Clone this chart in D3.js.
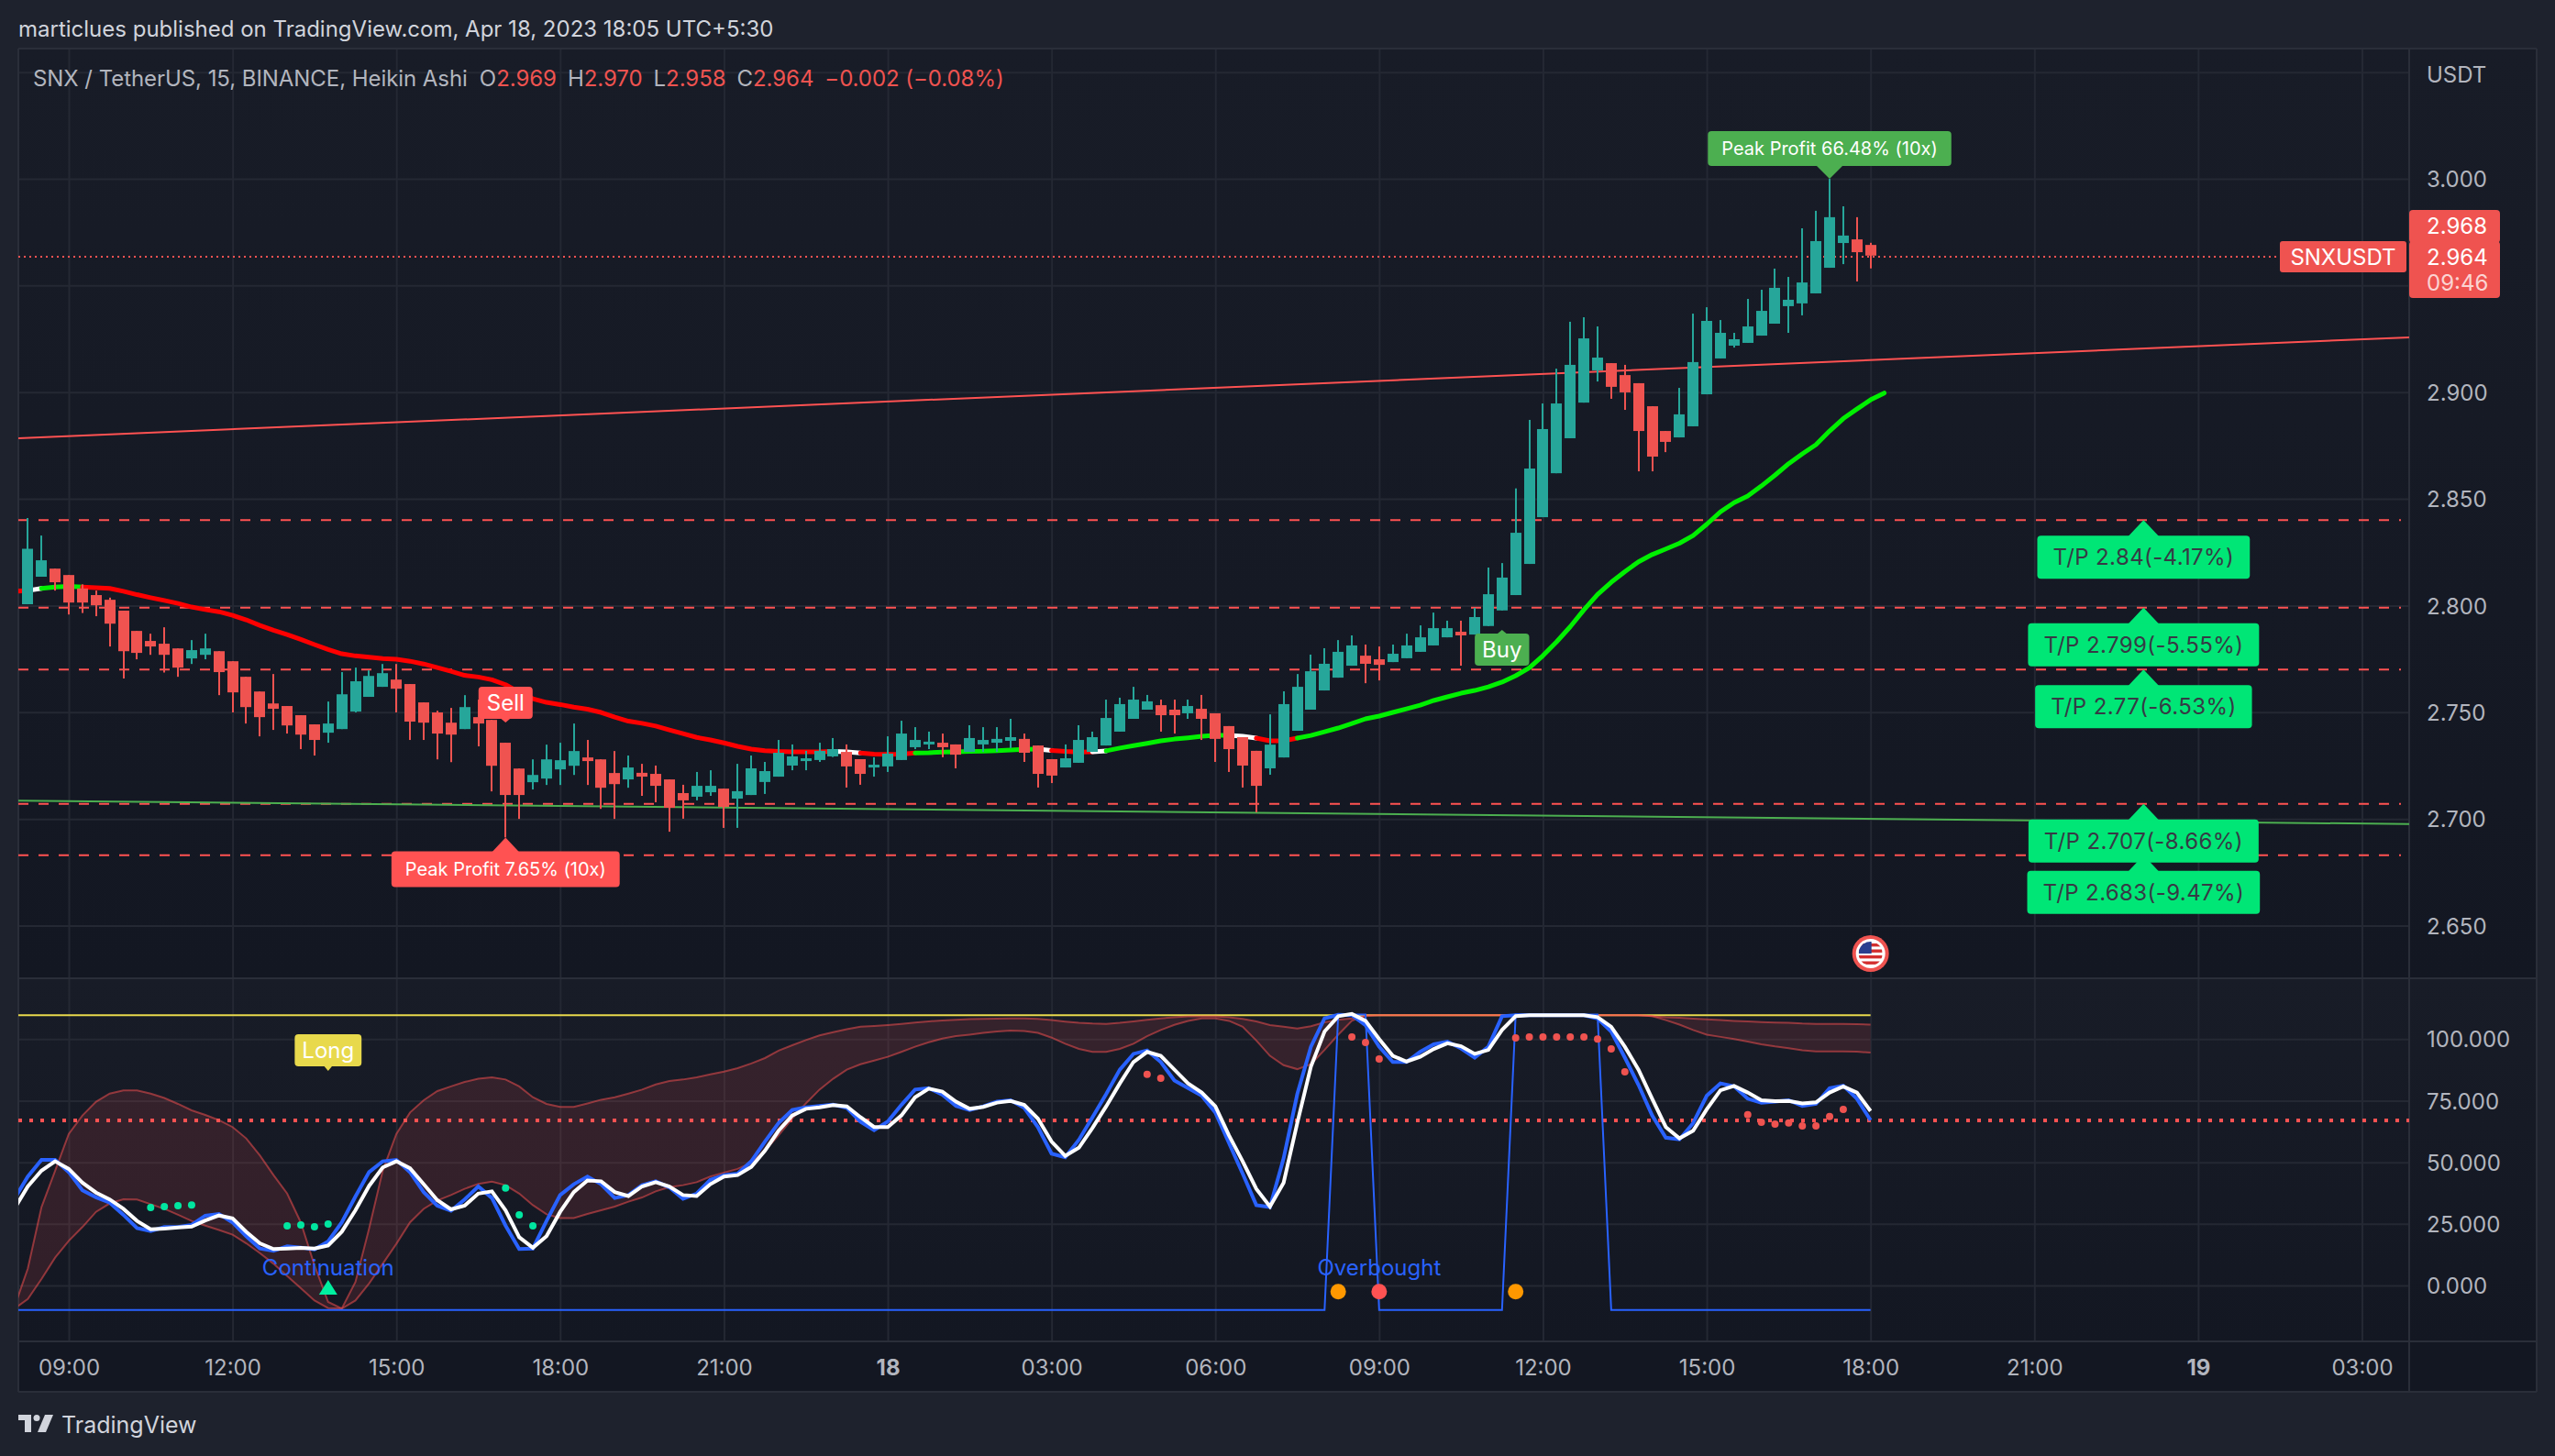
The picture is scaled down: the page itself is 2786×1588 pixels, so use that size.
<!DOCTYPE html>
<html>
<head>
<meta charset="utf-8">
<title>SNXUSDT</title>
<script src="https://cdn.jsdelivr.net/npm/d3@7/dist/d3.min.js"></script>
<style>
	html, body { margin: 0; padding: 0; background: #1e222d; }
	svg { display: block; }
	text { font-family: Inter, "Noto Sans", sans-serif; }
</style>
</head>
<body>
<div id="chart"></div>
<script>
// candles, one per 15 min bar, first one is bar -3 (bar 0 = 09:00 on the 17th)
var firstBar = -3;
var opens = [2.8006,2.8135,2.8173,2.8143,2.8080,2.8049,2.8027,2.7976,2.7881,2.7834,2.7821,2.7799,2.7752,2.7769,2.7786,2.7739,2.7666,2.7597,2.7541,2.7529,2.7486,2.7443,2.7404,2.7421,2.7503,2.7572,2.7619,2.7653,2.7632,2.7546,2.7499,2.7451,2.7421,2.7477,2.7464,2.7357,2.7236,2.7172,2.7189,2.7232,2.7249,2.7288,2.7279,2.7215,2.7185,2.7216,2.7211,2.7185,2.7121,2.7104,2.7125,2.7142,2.7095,2.7112,2.7173,2.7198,2.7250,2.7271,2.7276,2.7293,2.7314,2.7280,2.7241,2.7246,2.7276,2.7336,2.7349,2.7357,2.7349,2.7314,2.7349,2.7357,2.7366,2.7375,2.7344,2.7280,2.7241,2.7263,2.7314,2.7344,2.7409,2.7469,2.7512,2.7533,2.7512,2.7495,2.7516,2.7495,2.7435,2.7383,2.7319,2.7237,2.7288,2.7413,2.7512,2.7602,2.7662,2.7718,2.7765,2.7748,2.7735,2.7753,2.7783,2.7813,2.7851,2.7877,2.7864,2.7904,2.7977,2.8049,2.8195,2.8414,2.8620,2.8784,2.8951,2.9102,2.9136,2.9080,2.9042,2.8934,2.8818,2.8788,2.8840,2.8990,2.9158,2.9218,2.9231,2.9265,2.9321,2.9403,2.9416,2.9463,2.9583,2.9699,2.9716,2.969];
var highs = [2.8410,2.8328,2.8173,2.8143,2.8099,2.8070,2.8037,2.7976,2.7881,2.7868,2.7898,2.7799,2.7838,2.7868,2.7786,2.7739,2.7666,2.7597,2.7679,2.7529,2.7486,2.7443,2.7550,2.7688,2.7709,2.7696,2.7726,2.7726,2.7632,2.7546,2.7507,2.7520,2.7580,2.7559,2.7464,2.7357,2.7236,2.7279,2.7348,2.7357,2.7447,2.7370,2.7279,2.7318,2.7297,2.7258,2.7250,2.7185,2.7160,2.7220,2.7228,2.7142,2.7258,2.7297,2.7267,2.7370,2.7349,2.7319,2.7357,2.7379,2.7349,2.7280,2.7289,2.7387,2.7460,2.7430,2.7409,2.7400,2.7349,2.7439,2.7430,2.7430,2.7469,2.7400,2.7344,2.7280,2.7349,2.7439,2.7409,2.7559,2.7568,2.7619,2.7581,2.7559,2.7559,2.7559,2.7581,2.7495,2.7435,2.7383,2.7319,2.7490,2.7598,2.7679,2.7770,2.7800,2.7838,2.7860,2.7817,2.7808,2.7817,2.7868,2.7907,2.7967,2.7929,2.7929,2.7989,2.8178,2.8199,2.8549,2.8870,2.8947,2.9110,2.9330,2.9351,2.9308,2.9136,2.9128,2.9042,2.8934,2.8818,2.9020,2.9368,2.9398,2.9338,2.9278,2.9437,2.9480,2.9579,2.9540,2.9768,2.9850,3.0000,2.9871,2.9820,2.970];
var lows = [2.8006,2.8135,2.8070,2.7958,2.7965,2.7950,2.7808,2.7658,2.7748,2.7769,2.7686,2.7666,2.7726,2.7748,2.7580,2.7499,2.7447,2.7387,2.7417,2.7400,2.7327,2.7297,2.7357,2.7421,2.7499,2.7572,2.7619,2.7499,2.7370,2.7370,2.7279,2.7266,2.7421,2.7340,2.7129,2.6913,2.7000,2.7138,2.7159,2.7159,2.7206,2.7159,2.7047,2.7000,2.7146,2.7108,2.7078,2.6940,2.7001,2.7087,2.7108,2.6958,2.6958,2.7112,2.7117,2.7198,2.7228,2.7228,2.7267,2.7290,2.7147,2.7160,2.7198,2.7220,2.7276,2.7327,2.7327,2.7289,2.7237,2.7314,2.7314,2.7314,2.7332,2.7267,2.7147,2.7168,2.7241,2.7263,2.7314,2.7344,2.7409,2.7469,2.7512,2.7409,2.7400,2.7469,2.7370,2.7267,2.7220,2.7147,2.7031,2.7207,2.7288,2.7413,2.7512,2.7602,2.7662,2.7718,2.7636,2.7649,2.7735,2.7753,2.7783,2.7813,2.7851,2.7718,2.7864,2.7904,2.7977,2.8049,2.8195,2.8414,2.8620,2.8784,2.8951,2.9050,2.8969,2.8917,2.8629,2.8629,2.8719,2.8788,2.8840,2.8990,2.9158,2.9209,2.9231,2.9265,2.9321,2.9278,2.9360,2.9463,2.9583,2.9600,2.9519,2.958];
var closes = [2.8266,2.8212,2.8109,2.8014,2.8014,2.8001,2.7915,2.7786,2.7778,2.7808,2.7769,2.7709,2.7791,2.7799,2.7688,2.7593,2.7524,2.7477,2.7516,2.7438,2.7395,2.7370,2.7447,2.7584,2.7645,2.7670,2.7683,2.7610,2.7456,2.7451,2.7400,2.7395,2.7524,2.7447,2.7249,2.7112,2.7112,2.7206,2.7279,2.7275,2.7318,2.7271,2.7146,2.7163,2.7241,2.7198,2.7155,2.7052,2.7087,2.7155,2.7155,2.7056,2.7130,2.7237,2.7224,2.7310,2.7293,2.7284,2.7319,2.7327,2.7246,2.7211,2.7254,2.7306,2.7400,2.7370,2.7362,2.7336,2.7301,2.7379,2.7370,2.7375,2.7383,2.7310,2.7211,2.7203,2.7284,2.7370,2.7383,2.7473,2.7538,2.7559,2.7551,2.7486,2.7486,2.7529,2.7469,2.7375,2.7327,2.7250,2.7155,2.7348,2.7538,2.7619,2.7692,2.7727,2.7783,2.7813,2.7727,2.7722,2.7774,2.7813,2.7851,2.7894,2.7894,2.7860,2.7946,2.8053,2.8131,2.8341,2.8642,2.8827,2.8947,2.9128,2.9252,2.9162,2.9025,2.8999,2.8818,2.8698,2.8767,2.8896,2.9141,2.9334,2.9278,2.9248,2.9308,2.9381,2.9489,2.9433,2.9514,2.9708,2.9820,2.9734,2.9656,2.964];

// moving average, first value is bar -4
var maFirstBar = -4;
var maValues = [2.8067,2.8070,2.8080,2.8087,2.8090,2.8087,2.8084,2.8080,2.8067,2.8051,2.8037,2.8024,2.8010,2.7993,2.7981,2.7971,2.7954,2.7933,2.7907,2.7884,2.7864,2.7841,2.7817,2.7794,2.7774,2.7764,2.7758,2.7752,2.7748,2.7739,2.7726,2.7709,2.7692,2.7673,2.7665,2.7652,2.7629,2.7593,2.7563,2.7546,2.7536,2.7524,2.7514,2.7499,2.7477,2.7458,2.7448,2.7435,2.7417,2.7400,2.7382,2.7370,2.7356,2.7340,2.7327,2.7320,2.7316,2.7314,2.7314,2.7314,2.7316,2.7314,2.7309,2.7304,2.7303,2.7304,2.7309,2.7310,2.7313,2.7314,2.7316,2.7317,2.7320,2.7323,2.7326,2.7327,2.7321,2.7316,2.7313,2.7314,2.7319,2.7332,2.7343,2.7354,2.7366,2.7374,2.7380,2.7387,2.7392,2.7392,2.7387,2.7379,2.7366,2.7366,2.7379,2.7391,2.7408,2.7426,2.7447,2.7469,2.7482,2.7499,2.7516,2.7533,2.7555,2.7572,2.7589,2.7602,2.7619,2.7641,2.7671,2.7708,2.7765,2.7830,2.7901,2.7980,2.8052,2.8109,2.8159,2.8205,2.8239,2.8265,2.8292,2.8328,2.8381,2.8439,2.8482,2.8513,2.8560,2.8611,2.8665,2.8711,2.8754,2.8818,2.8876,2.8921,2.8964,2.8996];
var maColorStarts = [-4,-3,-2,1,56,58,62,71,72,75,76,85,87,90];
var maColorNames = ["red","white","green","red","white","red","green","white","red","white","green","white","red","green"];

// horizontal levels and trend lines
var targetPrices = [2.84,2.799,2.77,2.707,2.683];
var targetTexts = ["T/P 2.84(-4.17%)","T/P 2.799(-5.55%)","T/P 2.77(-6.53%)","T/P 2.707(-8.66%)","T/P 2.683(-9.47%)"];
var targetBar = 152;
var lastPrice = 2.9635;
var redTrendBars = [-3.7,171.5], redTrendPrices = [2.8784,2.9257];
var greenTrendBars = [-3.7,171.5], greenTrendPrices = [2.7086,2.6976];

// axes
var priceTicks = [3,2.9,2.85,2.8,2.75,2.7,2.65];
var priceGrid = [3.05,3,2.95,2.9,2.85,2.8,2.75,2.7,2.65];
var paneTicks = [100,75,50,25,0];
var timeTickBars = [0,12,24,36,48,60,72,84,96,108,120,132,144,156,168];
var timeTickLabels = ["09:00","12:00","15:00","18:00","21:00","18","03:00","06:00","09:00","12:00","15:00","18:00","21:00","19","03:00"];

// lower pane, first value is bar -4
var oscFirstBar = -4;
var oscFast = [35,44.2,51,51,46,38.6,35.8,33.6,28.7,23.3,22.1,23.7,23.7,24.6,28.3,29,25.6,20,15,14.1,15.9,15.4,14.6,17.9,25.6,36.1,46,50.4,51,46,37.9,32.4,30.3,34.9,40.2,35.5,24.3,14.8,15,26.2,36.7,41.1,44.2,41.1,35.5,36.7,40.7,42.3,39.8,35.2,37.3,42.9,44.8,45.4,50.4,58.4,65.9,71.2,72.3,72.9,73.4,72.1,66.5,63,66.5,73.3,79.5,80.1,77.4,72.9,71.2,72.7,74.6,75.2,72.1,64.3,53.5,52,59.1,68.3,77.7,87.6,94,95.4,90.7,83.2,80.1,77,70.2,57.8,45.4,32.6,31.8,51.6,77.7,96.9,108.4,109.9,109.7,105.6,96.9,90.7,90.7,94.8,97.9,99,96.2,92.5,96.9,109.3,109.7,109.7,109.7,109.7,109.7,109.7,108.4,103.1,92.5,81.4,69,60,59.3,65.9,77,82,80.8,75.8,74.2,74.6,75.2,72.9,73.7,80.1,81.1,75.8,67.1];
var oscSlow = [31,40.2,46.6,50.4,47.3,41.7,37.7,34.9,31.1,26.2,22.8,23.1,23.5,23.9,26.4,28.4,27.2,21.8,17.1,14.8,15,15.3,15,16.2,21.8,30.5,40.4,47.9,50.4,47.6,41.1,34.6,30.9,32.4,37.3,38.2,30.5,19.6,15.3,20,29.9,37.9,42.6,42.3,37.9,36.3,40.2,41.9,40.2,36.7,36.3,41.1,44.2,44.8,48.1,54.7,62.8,69,71.7,72.3,73.2,72.7,68.3,64.3,64.3,69,76.4,79.9,78.7,74.6,71.7,72.5,74.2,74.9,73.3,67.7,58.4,52.6,55.9,64,72.7,82,90.7,94.8,93.2,87.6,82,78.3,72.7,60.9,50.4,39.2,32,41.7,65.9,88.8,103.1,109.3,110.2,107.4,100,93.2,90.9,92.8,96,98.3,97.1,94,95.6,103.7,109.3,109.7,109.7,109.7,109.7,109.7,108.9,105,96.9,87.6,75.8,64.3,59.7,62.8,71.5,79.2,81,78.3,75.2,74.8,74.9,73.9,74.3,78.3,80.8,78.3,70.8];
var bandUpper = [
	-9,6.9,31.8,46.6,61.5,69,74.6,77.9,79.2,79.2,
	77.9,76.1,73.7,71.1,69.2,67.1,64.3,59.7,52.8,44.8,
	37.3,25.6,8.2,-6.7,-9.4,1.4,23.1,46.6,61.5,70.2,
	75.2,78.9,80.8,82.6,83.9,84.5,83.6,80.8,76.4,73.7,
	72.5,72.5,73.9,75.4,76.4,77.9,79.5,81.6,83,83.6,
	84.5,85.7,86.8,88.2,90.1,92.3,95.3,97.5,99.6,101.5,
	102.8,104,105,105.3,105.7,106.2,106.7,107.2,107.6,107.8,
	108.1,108.2,108.3,108.4,108.4,108.2,107.7,107.1,106.6,106.3,
	106.2,106.6,107.2,107.8,108.4,108.9,109.2,109.2,109.2,108.9,
	108.2,107.2,105.7,105,104.3,105.2,106.8,107.8,108.4,109.3,
	109.7,109.7,109.7,109.7,109.7,109.7,109.7,109.7,109.7,109.7,
	109.7,109.7,109.7,109.7,109.7,109.7,109.7,109.7,109.7,109.7,
	109.3,108.9,108.7,108.3,108,107.7,107.4,107.2,106.9,106.7,
	106.6,106.3,106.2,106.2,106.2,106.1,105.9
];
var bandLower = [
	-9.5,-5.5,2.6,11.3,18.1,23.7,29.9,33.3,35,34.9,
	33,31.1,28.7,26.2,24.3,22.5,20.6,17.1,13.1,8.8,
	3.8,-1.1,-6.1,-9.2,-9.4,-6.1,0.8,8.8,16.9,25.6,
	31.1,34.5,36.7,39.2,41.2,42.1,40.7,37.3,32.6,28.9,
	27.4,27.4,29,30.5,32,34,35.7,38.2,39.9,40.7,
	41.9,44.2,45.8,47.3,49.8,54.7,60.9,67.7,73.9,79.5,
	83.9,87.6,89.8,91.3,92.8,94.8,96.9,98.7,100.2,101.2,
	101.8,102.5,103.1,103.5,103.3,102.5,100.6,98.1,96,94.8,
	94.8,96,98.1,101.2,103.7,105.8,107.4,108.4,108.4,107.4,
	105,99.4,93.2,89.4,87.8,89.8,95.6,101.8,107.4,109.7,
	109.7,109.7,109.7,109.7,109.7,109.7,109.7,109.7,109.7,109.7,
	109.7,109.7,109.7,109.7,109.7,109.7,109.7,109.7,109.7,109.7,
	109.3,107.7,105.9,103.7,101.8,100.9,100,99,97.9,97,
	96.3,95.5,95,95,95,94.9,94.5
];
var stepBars = [-4,92,93,95,96,105,106,112,113,132];
var stepValues = [-10,-10,110,110,-10,-10,110,110,-10,-10];
var ceilingLevel = 109.7;
var ceilingBars = [-4,132];
var dottedLevel = 67;
var greenDotBars = [6,7,8,9,16,17,18,19,32,33,34];
var greenDotValues = [31.6,32,32.4,32.7,24.2,24.6,23.8,24.9,39.5,28.7,24.2];
var redDotBars = [79,80,94,95,96,106,107,108,109,110,111,112,113,114,123,124,125,126,127,128,129,130];
var redDotValues = [85.7,84.1,100.9,98.6,91.9,100.5,100.9,100.9,100.9,100.9,100.9,100,96,86.7,69.3,66.2,65.5,66,64.8,64.8,68.6,71.5];
var signalBars = [93,96,106];
var signalNames = ["orange","red","orange"];
var signalValue = -2.5;

var colors = {
	outer: "#1e222d", pane: "#131722", line: "#2a2e39", grid: "#242833",
	text: "#b2b5be", bright: "#d1d4dc",
	up: "#26a69a", down: "#ef5350", red: "#ff5252", green: "#4caf50", tp: "#00e676",
	blue: "#2962ff", yellow: "#e8d94c", mint: "#00e6a0", orange: "#ff9800",
	ma: {red: "#ff0000", green: "#00f000", white: "#ffffff"}
};

var W = 2786, H = 1588,
	plotLeft = 20, plotRight = 2627, frameRight = 2766,
	mainTop = 53, mainBottom = 1066, paneTop = 1068, paneBottom = 1463, frameBottom = 1518;

var x = d3.scaleLinear().domain([-3.695, 171.46]).range([plotLeft, plotRight]);
var y = d3.scaleLinear().domain([3, 2.65]).range([195, 1009.5]);
var yPane = d3.scaleLinear().domain([100, 0]).range([1133.3, 1402]);

var svg = d3.select("#chart").append("svg").attr("width", W).attr("height", H);
var defs = svg.append("defs");

var grad = defs.append("linearGradient").attr("id", "paneFill").attr("x1", 0).attr("x2", 0).attr("y1", 0).attr("y2", 1);
grad.append("stop").attr("offset", "0").attr("stop-color", "#181c27");
grad.append("stop").attr("offset", "1").attr("stop-color", colors.pane);

defs.append("clipPath").attr("id", "clipMain").append("rect")
	.attr("x", plotLeft).attr("y", mainTop).attr("width", plotRight - plotLeft).attr("height", mainBottom - mainTop);
defs.append("clipPath").attr("id", "clipPane").append("rect")
	.attr("x", plotLeft).attr("y", paneTop).attr("width", plotRight - plotLeft).attr("height", paneBottom - paneTop);

svg.append("rect").attr("width", W).attr("height", H).attr("fill", colors.outer);
svg.append("rect").attr("x", plotLeft).attr("y", mainTop).attr("width", frameRight - plotLeft).attr("height", mainBottom - mainTop).attr("fill", "url(#paneFill)");
svg.append("rect").attr("x", plotLeft).attr("y", paneTop).attr("width", frameRight - plotLeft).attr("height", paneBottom - paneTop).attr("fill", "url(#paneFill)");
svg.append("rect").attr("x", plotLeft).attr("y", paneBottom).attr("width", frameRight - plotLeft).attr("height", frameBottom - paneBottom).attr("fill", colors.pane);

// grid goes through the library axes, ticks stretched over the plot
function gridAxis(group) {
	group.selectAll("text").remove();
	group.select(".domain").remove();
	group.selectAll("line").attr("stroke", colors.grid).attr("stroke-width", 2);
}
svg.append("g").attr("transform", "translate(" + plotRight + ",0)")
	.call(d3.axisRight(y).tickValues(priceGrid).tickSize(-(plotRight - plotLeft))).call(gridAxis);
svg.append("g").attr("transform", "translate(" + plotRight + ",0)")
	.call(d3.axisRight(yPane).tickValues(paneTicks).tickSize(-(plotRight - plotLeft))).call(gridAxis);
svg.append("g").attr("transform", "translate(0," + mainBottom + ")")
	.call(d3.axisTop(x).tickValues(timeTickBars).tickSize(mainBottom - mainTop)).call(gridAxis);
svg.append("g").attr("transform", "translate(0," + paneBottom + ")")
	.call(d3.axisTop(x).tickValues(timeTickBars).tickSize(paneBottom - paneTop)).call(gridAxis);

// frame
var frame = svg.append("g").attr("stroke", colors.line).attr("stroke-width", 2);
[[plotLeft, mainTop, frameRight, mainTop], [plotLeft, 1067, frameRight, 1067], [plotLeft, paneBottom, frameRight, paneBottom],
	[plotLeft, frameBottom, frameRight, frameBottom], [plotLeft, mainTop, plotLeft, frameBottom],
	[frameRight, mainTop, frameRight, frameBottom], [plotRight, mainTop, plotRight, frameBottom]].forEach(function(s) {
	frame.append("line").attr("x1", s[0]).attr("y1", s[1]).attr("x2", s[2]).attr("y2", s[3]);
});

// price pane
var main = svg.append("g").attr("clip-path", "url(#clipMain)");

main.selectAll(".target").data(targetPrices).enter().append("line")
	.attr("x1", plotLeft).attr("x2", 2618)
	.attr("y1", function(d) { return y(d); }).attr("y2", function(d) { return y(d); })
	.attr("stroke", colors.red).attr("stroke-width", 2).attr("stroke-dasharray", "11 11");

var priceLine = d3.line().x(function(d) { return x(d[0]); }).y(function(d) { return y(d[1]); });
main.append("path").datum(d3.zip(redTrendBars, redTrendPrices)).attr("d", priceLine)
	.attr("fill", "none").attr("stroke", colors.red).attr("stroke-width", 2);
main.append("path").datum(d3.zip(greenTrendBars, greenTrendPrices)).attr("d", priceLine)
	.attr("fill", "none").attr("stroke", colors.green).attr("stroke-width", 2);

main.append("line").attr("x1", plotLeft).attr("x2", 2486)
	.attr("y1", y(lastPrice)).attr("y2", y(lastPrice))
	.attr("stroke", colors.red).attr("stroke-width", 2).attr("stroke-dasharray", "2 4");

// moving average, cut in pieces by colour
var maPoints = maValues.map(function(v, i) { return [maFirstBar + i, v]; });
maColorStarts.forEach(function(start, k) {
	var end = k + 1 < maColorStarts.length ? maColorStarts[k + 1] : 999;
	var piece = maPoints.filter(function(d) { return d[0] >= start && d[0] <= end; });
	main.append("path").datum(piece).attr("d", priceLine)
		.attr("fill", "none").attr("stroke", colors.ma[maColorNames[k]])
		.attr("stroke-width", 5).attr("stroke-linejoin", "round").attr("stroke-linecap", "round");
});

// candles
var candles = opens.map(function(o, i) {
	return {bar: firstBar + i, o: o, h: highs[i], l: lows[i], c: closes[i]};
});
function candleColor(d) { return d.c >= d.o ? colors.up : colors.down; }
main.selectAll(".wick").data(candles).enter().append("rect")
	.attr("class", "wick")
	.attr("x", function(d) { return Math.round(x(d.bar)) - 1; })
	.attr("width", 2)
	.attr("y", function(d) { return y(d.h); })
	.attr("height", function(d) { return y(d.l) - y(d.h); })
	.attr("fill", candleColor);
main.selectAll(".body").data(candles).enter().append("rect")
	.attr("class", "body")
	.attr("x", function(d) { return Math.round(x(d.bar)) - 6; })
	.attr("width", 12)
	.attr("y", function(d) { return y(Math.max(d.o, d.c)); })
	.attr("height", function(d) { return Math.abs(y(d.o) - y(d.c)); })
	.attr("fill", candleColor);

// callout with a pointer, tip sits on the given point
function callout(parent, tipX, tipY, label, opt) {
	var dir = opt.dir;
	var g = parent.append("g");
	var boxTop = dir > 0 ? tipY + opt.triH : tipY - opt.triH - opt.boxH;
	var t = g.append("text").attr("x", tipX).attr("y", boxTop + opt.boxH / 2)
		.attr("dy", "0.36em").attr("text-anchor", "middle")
		.attr("font-size", opt.size).attr("letter-spacing", opt.spacing || 0)
		.attr("fill", opt.ink).text(label);
	var w = t.node().getComputedTextLength() + opt.pad * 2;
	var base = dir > 0 ? boxTop + 1 : boxTop + opt.boxH - 1;
	g.insert("rect", "text").attr("x", tipX - w / 2).attr("y", boxTop).attr("width", w).attr("height", opt.boxH)
		.attr("rx", 4).attr("fill", opt.fill);
	g.insert("path", "text")
		.attr("d", "M" + (tipX - opt.triW) + "," + base + "L" + tipX + "," + tipY + "L" + (tipX + opt.triW) + "," + base + "Z")
		.attr("fill", opt.fill);
}

var marks = svg.append("g");
callout(marks, x(32), y(2.7452), "Sell", {dir: -1, boxH: 35, triH: 4, triW: 6, pad: 9, size: 24, ink: "#fff", fill: colors.red});
callout(marks, x(32), y(2.6913), "Peak Profit 7.65% (10x)", {dir: 1, boxH: 39, triH: 15, triW: 15, pad: 15, size: 20, ink: "#fff", fill: colors.red});
callout(marks, x(105), y(2.7886), "Buy", {dir: 1, boxH: 35, triH: 4, triW: 6, pad: 8, size: 24, ink: "#fff", fill: colors.green});
callout(marks, x(129), y(3.0), "Peak Profit 66.48% (10x)", {dir: -1, boxH: 38, triH: 14, triW: 15, pad: 15, size: 20, ink: "#fff", fill: colors.green});
targetPrices.forEach(function(p, i) {
	callout(marks, x(targetBar), y(p), targetTexts[i], {dir: 1, boxH: 47, triH: 17, triW: 17, pad: 17, size: 24, spacing: 0.4, ink: "#363a45", fill: colors.tp});
});

// event flag on the time line
var flag = svg.append("g").attr("transform", "translate(" + x(132) + "," + y(2.6369) + ")");
defs.append("clipPath").attr("id", "clipFlag").append("circle").attr("r", 13);
flag.append("circle").attr("r", 20).attr("fill", colors.down);
flag.append("circle").attr("r", 16).attr("fill", "#fff");
var flagInner = flag.append("g").attr("clip-path", "url(#clipFlag)");
flagInner.append("rect").attr("x", -13).attr("y", -13).attr("width", 26).attr("height", 26).attr("fill", "#fff");
d3.range(4).forEach(function(k) {
	flagInner.append("rect").attr("x", -13).attr("y", -11 + k * 6.5).attr("width", 26).attr("height", 3.4).attr("fill", "#d32f2f");
});
flagInner.append("rect").attr("x", -13).attr("y", -13).attr("width", 14).attr("height", 13).attr("fill", "#2a3f8f");

// lower pane
var pane = svg.append("g").attr("clip-path", "url(#clipPane)");
var paneLine = d3.line().x(function(d) { return x(d[0]); }).y(function(d) { return yPane(d[1]); });
function oscPoints(values) { return values.map(function(v, i) { return [oscFirstBar + i, v]; }); }

pane.append("path").datum(ceilingBars.map(function(b) { return [b, ceilingLevel]; })).attr("d", paneLine)
	.attr("fill", "none").attr("stroke", colors.yellow).attr("stroke-width", 2);

var bandArea = d3.area()
	.x(function(d, i) { return x(oscFirstBar + i); })
	.y0(function(d, i) { return yPane(bandLower[i]); })
	.y1(function(d) { return yPane(d); });
pane.append("path").datum(bandUpper).attr("d", bandArea).attr("fill", colors.red).attr("fill-opacity", 0.13);
[bandUpper, bandLower].forEach(function(values) {
	pane.append("path").datum(oscPoints(values)).attr("d", paneLine)
		.attr("fill", "none").attr("stroke", colors.red).attr("stroke-opacity", 0.5).attr("stroke-width", 2);
});

pane.append("line").attr("x1", plotLeft).attr("x2", plotRight)
	.attr("y1", yPane(dottedLevel)).attr("y2", yPane(dottedLevel))
	.attr("stroke", colors.red).attr("stroke-width", 4).attr("stroke-dasharray", "4 8");

pane.append("path").datum(d3.zip(stepBars, stepValues)).attr("d", paneLine)
	.attr("fill", "none").attr("stroke", colors.blue).attr("stroke-width", 2);
pane.append("path").datum(oscPoints(oscFast)).attr("d", paneLine)
	.attr("fill", "none").attr("stroke", colors.blue).attr("stroke-width", 4);
pane.append("path").datum(oscPoints(oscSlow)).attr("d", paneLine)
	.attr("fill", "none").attr("stroke", "#fff").attr("stroke-width", 4);

function dots(bars, values, color) {
	pane.selectAll(null).data(d3.zip(bars, values)).enter().append("circle")
		.attr("cx", function(d) { return x(d[0]); })
		.attr("cy", function(d) { return yPane(d[1]); })
		.attr("r", 4).attr("fill", color);
}
dots(greenDotBars, greenDotValues, colors.mint);
dots(redDotBars, redDotValues, colors.down);

pane.selectAll(".signal").data(d3.zip(signalBars, signalNames)).enter().append("circle")
	.attr("cx", function(d) { return x(d[0]); })
	.attr("cy", yPane(signalValue))
	.attr("r", 8.5)
	.attr("fill", function(d) { return colors[d[1]]; });

pane.append("path")
	.attr("d", "M" + x(19) + "," + (yPane(0) - 6) + "l10,16h-20Z")
	.attr("fill", "#00f0a0");

pane.selectAll(".word").data([[19, "Continuation"], [96, "Overbought"]]).enter().append("text")
	.attr("x", function(d) { return x(d[0]); })
	.attr("y", 1382).attr("dy", "0.36em")
	.attr("text-anchor", "middle").attr("font-size", 24).attr("fill", colors.blue)
	.text(function(d) { return d[1]; });

callout(svg, x(19), yPane(87.1), "Long", {dir: -1, boxH: 35, triH: 5, triW: 5, pad: 8, size: 24, ink: "#fff", fill: colors.yellow});

// axes with labels
function labelAxis(group) {
	group.select(".domain").remove();
	group.selectAll("line").remove();
	group.selectAll("text").attr("font-family", null).attr("font-size", 24).attr("fill", colors.text);
}
svg.append("g").attr("transform", "translate(" + (plotRight - 1) + ",1)")
	.call(d3.axisRight(y).tickValues(priceTicks).tickSize(0).tickPadding(20).tickFormat(d3.format(".3f"))).call(labelAxis);
svg.append("g").attr("transform", "translate(" + (plotRight - 1) + ",1)")
	.call(d3.axisRight(yPane).tickValues(paneTicks).tickSize(0).tickPadding(20).tickFormat(d3.format(".3f"))).call(labelAxis);
svg.append("g").attr("transform", "translate(0,1483)")
	.call(d3.axisBottom(x).tickValues(timeTickBars).tickSize(0).tickPadding(0)
		.tickFormat(function(d, i) { return timeTickLabels[i]; }))
	.call(labelAxis)
	.selectAll("text").attr("font-weight", function(d, i) { return timeTickLabels[i].length == 2 ? 700 : 400; });

svg.append("text").attr("x", 2646).attr("y", 81).attr("dy", "0.36em").attr("font-size", 24).attr("fill", colors.text).text("USDT");

// last price tags
svg.append("rect").attr("x", 2627).attr("y", 229).attr("width", 99).attr("height", 36).attr("rx", 4).attr("fill", colors.down);
svg.append("rect").attr("x", 2627).attr("y", 263).attr("width", 99).attr("height", 62).attr("rx", 4).attr("fill", colors.down);
svg.append("rect").attr("x", 2486).attr("y", 263).attr("width", 138).attr("height", 34).attr("rx", 3).attr("fill", colors.down);
svg.append("text").attr("x", 2646).attr("y", 246).attr("dy", "0.36em").attr("font-size", 24).attr("fill", "#fff").text(d3.format(".3f")(highs[highs.length - 1] - 0.002));
svg.append("text").attr("x", 2646).attr("y", 280).attr("dy", "0.36em").attr("font-size", 24).attr("fill", "#fff").text(d3.format(".3f")(closes[closes.length - 1]));
svg.append("text").attr("x", 2646).attr("y", 308).attr("dy", "0.36em").attr("font-size", 24).attr("fill", "#fff").attr("fill-opacity", 0.75).text("09:46");
svg.append("text").attr("x", 2555).attr("y", 280).attr("dy", "0.36em").attr("text-anchor", "middle").attr("font-size", 24).attr("fill", "#fff").text("SNXUSDT");

// header and legend
svg.append("text").attr("x", 20).attr("y", 31).attr("dy", "0.36em").attr("font-size", 24).attr("fill", colors.bright)
	.text("marticlues published on TradingView.com, Apr 18, 2023 18:05 UTC+5:30");

var legendParts = [
	["SNX / TetherUS, 15, BINANCE, Heikin Ashi", colors.text, 0],
	["O", colors.text, 13], ["2.969", colors.down, 0],
	["H", colors.text, 12], ["2.970", colors.down, 0],
	["L", colors.text, 12], ["2.958", colors.down, 0],
	["C", colors.text, 12], ["2.964", colors.down, 0],
	["\u22120.002 (\u22120.08%)", colors.down, 12]
];
var legend = svg.append("text").attr("x", 36).attr("y", 85).attr("dy", "0.36em").attr("font-size", 24).attr("letter-spacing", -0.06);
legendParts.forEach(function(p) {
	legend.append("tspan").attr("dx", p[2]).attr("fill", p[1]).text(p[0]);
});

// footer logo and name
var logo = svg.append("g").attr("fill", colors.bright);
logo.append("path").attr("d", "M20,1543H34V1562H27V1549H20Z");
logo.append("circle").attr("cx", 40).attr("cy", 1546.5).attr("r", 3.5);
logo.append("path").attr("d", "M49,1543H58L50,1562H41Z");
svg.append("text").attr("x", 67).attr("y", 1554).attr("dy", "0.36em").attr("font-size", 25).attr("fill", colors.bright).text("TradingView");
</script>
</body>
</html>
